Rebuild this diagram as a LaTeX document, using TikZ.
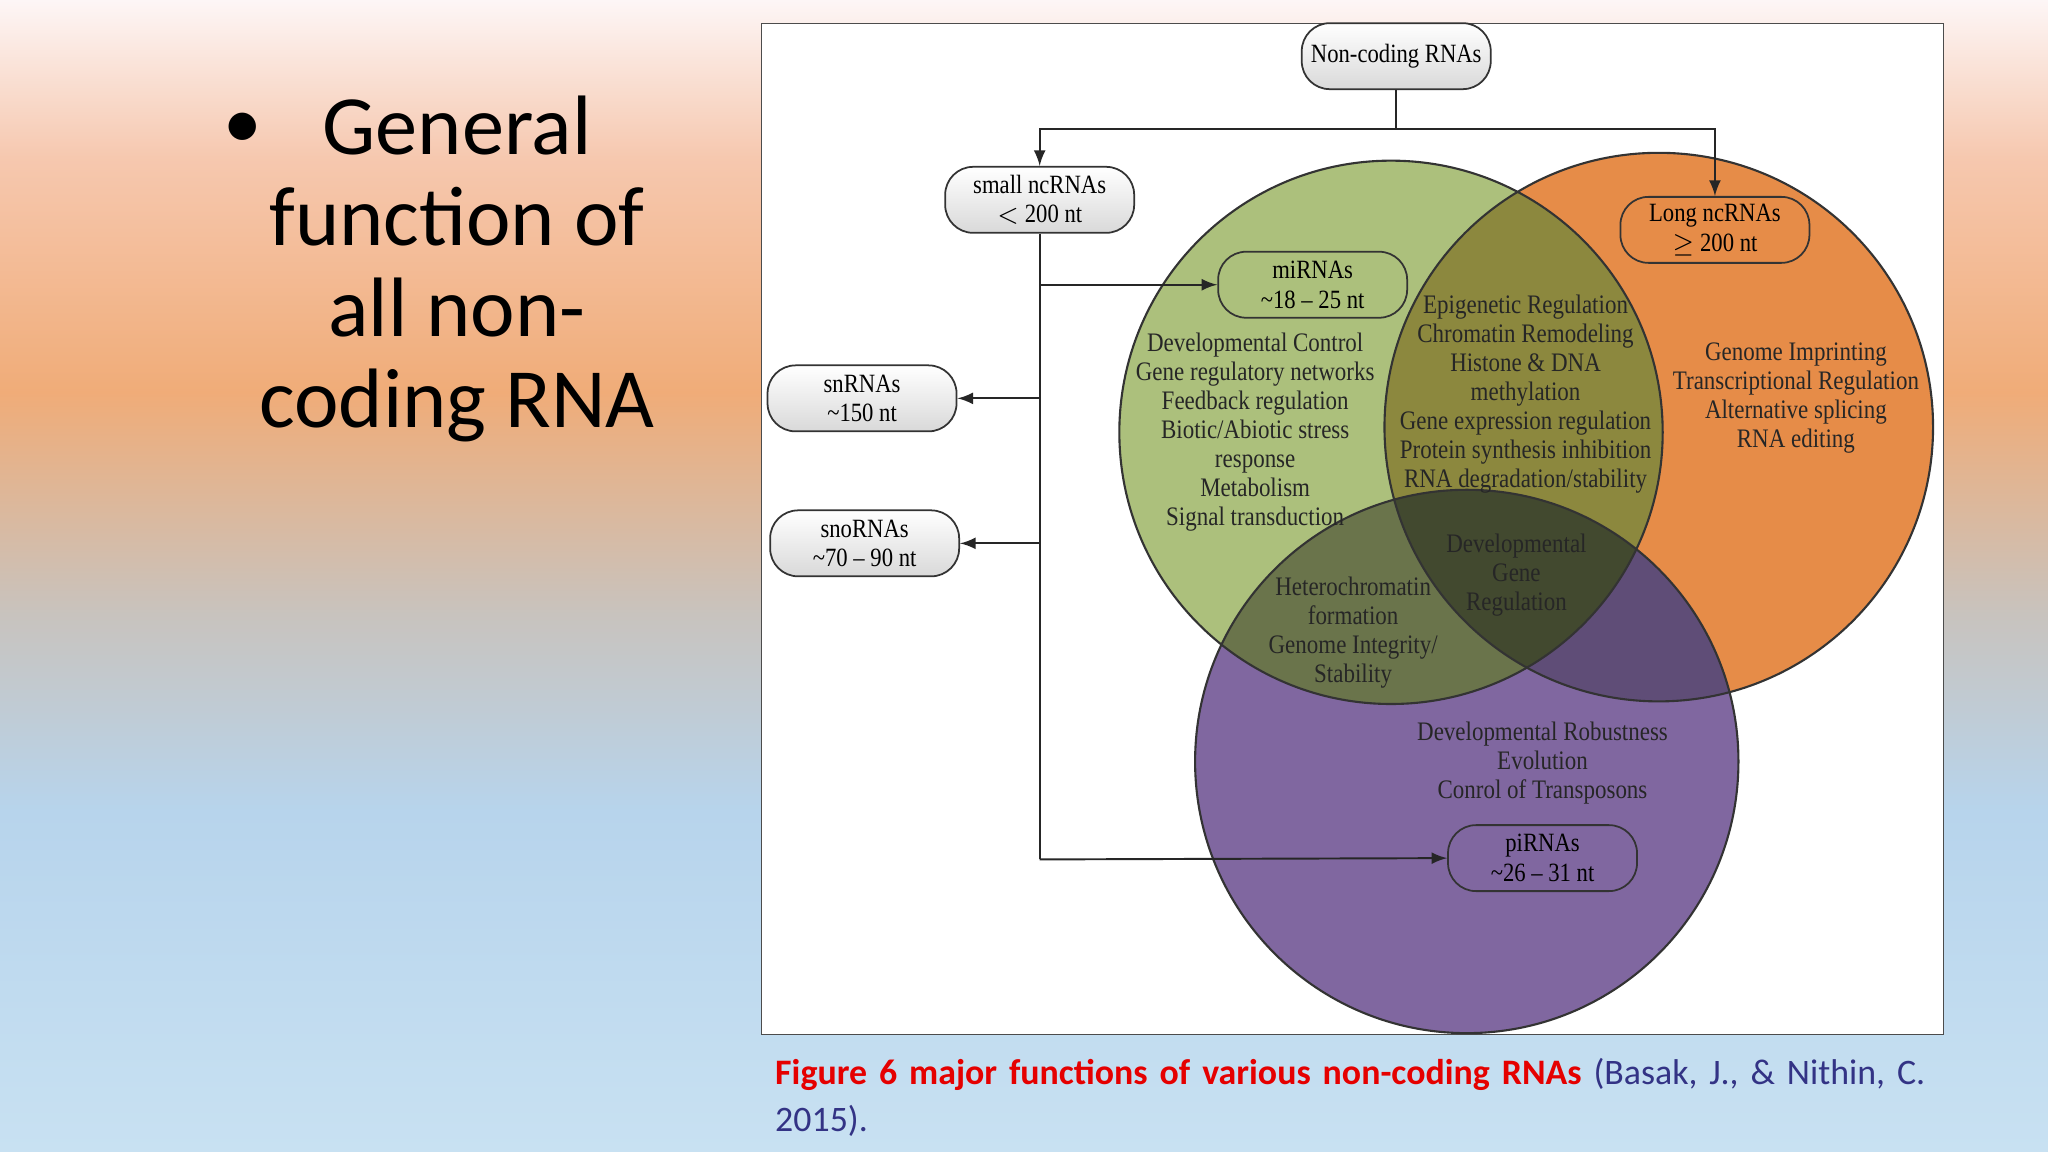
\documentclass[tikz,border=0pt]{standalone}
\usepackage{fontspec}
\setmainfont{Carlito}
\newfontfamily\figf{Liberation Serif}[FakeStretch=0.86]
\definecolor{bgA}{RGB}{253,246,246}
\definecolor{bgB}{RGB}{246,200,175}
\definecolor{bgC}{RGB}{240,172,120}
\definecolor{bgD}{RGB}{200,195,190}
\definecolor{bgE}{RGB}{183,212,236}
\definecolor{bgF}{RGB}{200,225,242}
\definecolor{cG}{RGB}{140,168,74}
\definecolor{cO}{RGB}{230,140,72}
\definecolor{cP}{RGB}{128,103,160}
\begin{document}
\begin{tikzpicture}[x=0.01306cm,y=-0.01306cm,
  obox/.style={draw=black!80,line width=0.5pt,rounded corners=0.28cm,minimum width=1.89cm,minimum height=0.66cm,align=center,font=\figf\fontsize{7.5}{8.4}\selectfont,inner sep=1pt},
  box/.style={obox,top color=white,bottom color=gray!30},
  lab/.style={align=center,font=\figf\fontsize{7.6}{8.25}\selectfont,text=black!85,inner sep=0pt},
  arr/.style={->,>=latex,line width=0.55pt,black!85},
  ln/.style={line width=0.55pt,black!85}]
\shade[top color=bgA,bottom color=bgB] (0,0) rectangle (1568,120.5);
\shade[top color=bgB,bottom color=bgC] (0,120) rectangle (1568,300.5);
\shade[top color=bgC,bottom color=bgD] (0,300) rectangle (1568,470.5);
\shade[top color=bgD,bottom color=bgE] (0,470) rectangle (1568,620.5);
\shade[top color=bgE,bottom color=bgF] (0,620) rectangle (1568,882);
\useasboundingbox (0,0) rectangle (1568,882);
\node[font=\fontsize{24}{25.9}\selectfont,align=center,text=black] (title) at (350,206) {General\\function of\\all non-\\coding RNA};
\node[font=\fontsize{22}{25.9}\selectfont] (bul) at (186,100) {•};
\draw[black!70,fill=white,line width=0.5pt] (583,18) rectangle (1488,792);
\fill[cO] (1270,327) circle (210);
\fill[cP] (1123,583) circle (208);
\fill[cG,opacity=0.72] (1065,331) circle (208);
\begin{scope}
\clip (1065,331) circle (208);
\fill[black,opacity=0.15] (1270,327) circle (210);
\fill[black,opacity=0.22] (1123,583) circle (208);
\end{scope}
\begin{scope}
\clip (1270,327) circle (210);
\fill[black,opacity=0.25] (1123,583) circle (208);
\end{scope}
\draw[black!80,line width=0.6pt] (1065,331) circle (208);
\draw[black!80,line width=0.6pt] (1270,327) circle (210);
\draw[black!80,line width=0.6pt] (1123,583) circle (208);
\node[box] (nc) at (1069,43) {Non-coding RNAs};
\node[box] (small) at (796,153) {small ncRNAs\\$<$ 200 nt};
\node[obox] (long) at (1313,176) {Long ncRNAs\\$\geq$ 200 nt};
\node[obox] (mi) at (1005,218) {miRNAs\\\textasciitilde18 – 25 nt};
\node[box] (sn) at (660,305) {snRNAs\\\textasciitilde150 nt};
\node[box] (sno) at (662,416) {snoRNAs\\\textasciitilde70 – 90 nt};
\node[obox] (pi) at (1181,657) {piRNAs\\\textasciitilde26 – 31 nt};
\coordinate (j) at (1069,99);
\coordinate (jl) at (796,99);
\coordinate (jr) at (1313,99);
\coordinate (v1) at (796,218);
\coordinate (v2) at (796,305);
\coordinate (v3) at (796,416);
\coordinate (v4) at (796,658);
\draw[ln] (nc.south) -- (j);
\draw[arr] (j) -- (jl) -- (small.north);
\draw[arr] (j) -- (jr) -- (long.north);
\draw[ln] (small.south) -- (v4);
\draw[arr] (v1) -- (mi.west);
\draw[arr] (v2) -- (sn.east);
\draw[arr] (v3) -- (sno.east);
\draw[arr] (v4) -- (pi.west);
\node[lab] (g) at (961,331) {Developmental Control\\Gene regulatory networks\\Feedback regulation\\Biotic/Abiotic stress\\response\\Metabolism\\Signal transduction};
\node[lab] (go) at (1168,302) {Epigenetic Regulation\\Chromatin Remodeling\\Histone \& DNA\\methylation\\Gene expression regulation\\Protein synthesis inhibition\\RNA degradation/stability};
\node[lab] (o) at (1375,305) {Genome Imprinting\\Transcriptional Regulation\\Alternative splicing\\RNA editing};
\node[lab] (gop) at (1161,440) {Developmental\\Gene\\Regulation};
\node[lab] (gp) at (1036,484) {Heterochromatin\\formation\\Genome Integrity/\\Stability};
\node[lab] (p) at (1181,584) {Developmental Robustness\\Evolution\\Conrol of Transposons};
\node[anchor=north west,align=left,text width=12.1cm,font=\fontsize{10.2}{13.4}\selectfont,text=blue!40!black!80,inner sep=0pt] (cap) at (593,810) {\textcolor{red!90!black}{\textbf{Figure 6 major functions of various non-coding RNAs}} (Basak, J., \& Nithin, C.\\2015).};
\end{tikzpicture}
\end{document}
